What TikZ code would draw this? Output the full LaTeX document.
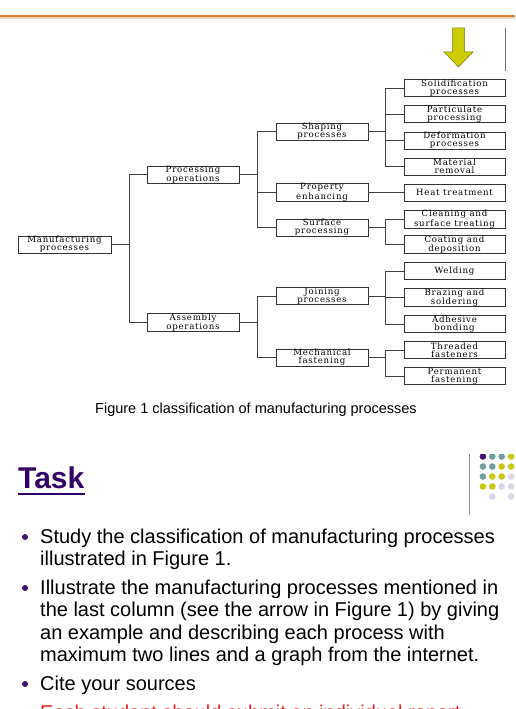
\documentclass[tikz,border=0pt]{standalone}
\usepackage{fontspec}
\setmainfont{Liberation Sans}
\newfontfamily\boxfont[LetterSpace=9]{DejaVu Serif}
\usetikzlibrary{calc}

\begin{document}
\begin{tikzpicture}[x=1pt,y=-1pt,
  box/.style={draw=black!80,line width=0.6pt,fill=white,minimum height=17pt,
    inner sep=0pt,align=center,font=\boxfont\fontsize{8.6}{8}\selectfont},
  midbox/.style={box,minimum width=92pt},
  leafbox/.style={box,minimum width=101pt},
  link/.style={draw=black!75,line width=0.6pt},
  bullettext/.style={anchor=base west,inner sep=0pt,font=\fontsize{20}{24}\selectfont}]

\definecolor{slideorange}{RGB}{214,128,58}
\definecolor{arrowyellow}{RGB}{204,204,0}
\definecolor{arrowedge}{RGB}{120,120,20}
\definecolor{taskpurple}{RGB}{51,0,102}
\definecolor{dotpurple}{RGB}{64,16,112}
\definecolor{dotteal}{RGB}{110,160,160}
\definecolor{dotyellow}{RGB}{200,200,20}
\definecolor{dotlilac}{RGB}{216,216,235}
\definecolor{warnred}{RGB}{230,30,30}

\useasboundingbox (0,0) rectangle (515,709);

% slide decoration
\draw [slideorange!35,line width=1.5pt] (0,18) -- (515,18);
\draw [slideorange,line width=2pt] (0,16) -- (515,16);
\draw [black!55,line width=0.8pt] (505,28) -- (505,71);
\draw [arrowedge,fill=arrowyellow,line width=0.5pt]
  (452.5,28) -- (464.5,28) -- (464.5,52) -- (473,52) -- (458.5,67)
  -- (444,52) -- (452.5,52) -- cycle;

% classification tree
\node [box,minimum width=93pt] (manuf) at (64.5,244.5) {Manufacturing\\processes};

\node [midbox] (procop) at (193,174.5) {Processing\\operations};
\node [midbox] (asmop) at (193,322.5) {Assembly\\operations};

\node [midbox] (shaping) at (322,131.5) {Shaping\\processes};
\node [midbox] (property) at (322,192.5) {Property\\enhancing};
\node [midbox] (surface) at (322,227.5) {Surface\\processing};
\node [midbox] (joining) at (322,296) {Joining\\processes};
\node [midbox] (mechfast) at (322,357.5) {Mechanical\\fastening};

\node [leafbox] (solid) at (454.5,88) {Solidification\\processes};
\node [leafbox] (partic) at (454.5,114) {Particulate\\processing};
\node [leafbox] (deform) at (454.5,140.5) {Deformation\\processes};
\node [leafbox] (material) at (454.5,166.5) {Material\\removal};
\node [leafbox] (heat) at (454.5,192.5) {Heat treatment};
\node [leafbox] (cleaning) at (454.5,219) {Cleaning and\\surface treating};
\node [leafbox] (coating) at (454.5,244.5) {Coating and\\deposition};
\node [leafbox] (welding) at (454.5,271) {Welding};
\node [leafbox] (brazing) at (454.5,297.5) {Brazing and\\soldering};
\node [leafbox] (adhesive) at (454.5,324) {Adhesive\\bonding};
\node [leafbox] (threaded) at (454.5,350) {Threaded\\fasteners};
\node [leafbox] (permanent) at (454.5,376) {Permanent\\fastening};

\draw [link] (manuf.east) -- ++(18,0) |- (procop.west);
\draw [link] (manuf.east) -- ++(18,0) |- (asmop.west);

\draw [link] (procop.east) -- ++(18,0) |- (shaping.west);
\draw [link] (procop.east) -- ++(18,0) |- (property.west);
\draw [link] (procop.east) -- ++(18,0) |- (surface.west);
\draw [link] (asmop.east) -- ++(18,0) |- (joining.west);
\draw [link] (asmop.east) -- ++(18,0) |- (mechfast.west);

\draw [link] (shaping.east) -- ++(17,0) |- (solid.west);
\draw [link] (shaping.east) -- ++(17,0) |- (partic.west);
\draw [link] (shaping.east) -- ++(17,0) |- (deform.west);
\draw [link] (shaping.east) -- ++(17,0) |- (material.west);
\draw [link] (property.east) -- (heat.west);
\draw [link] (surface.east) -- ++(17,0) |- (cleaning.west);
\draw [link] (surface.east) -- ++(17,0) |- (coating.west);
\draw [link] (joining.east) -- ++(17,0) |- (welding.west);
\draw [link] (joining.east) -- ++(17,0) |- (brazing.west);
\draw [link] (joining.east) -- ++(17,0) |- (adhesive.west);
\draw [link] (mechfast.east) -- ++(17,0) |- (threaded.west);
\draw [link] (mechfast.east) -- ++(17,0) |- (permanent.west);

\node [anchor=base,inner sep=0pt,font=\fontsize{14.5}{17}\selectfont] (caption) at (256,413)
  {Figure 1 classification of manufacturing processes};

% task block
\node [anchor=base west,inner sep=0pt,text=taskpurple,font=\bfseries\fontsize{30}{36}\selectfont]
  (task) at (18,488) {Task};
\draw [taskpurple,line width=2.5pt] ($(task.base west)+(0,6)$) -- ($(task.base east)+(0,6)$);

\draw [black!45,line width=1pt] (469,454) -- (469,515);
\begin{scope}
  \clip (472,454) rectangle (515,520);
  \foreach \col/\row/\c in {1/1/dotpurple,2/1/dotteal,3/1/dotteal,4/1/dotyellow,
      1/2/dotteal,2/2/dotteal,3/2/dotyellow,4/2/dotyellow,
      1/3/dotteal,2/3/dotyellow,3/3/dotyellow,4/3/dotlilac,
      1/4/dotyellow,2/4/dotyellow,3/4/dotlilac,4/4/dotlilac,
      2/5/dotlilac,4/5/dotlilac}
    \fill [\c] ({473.5+9.4*\col},{446.5+10*\row}) circle [radius=3.3pt];
\end{scope}

\node [bullettext] (study) at (40,543) {Study the classification of manufacturing processes};
\node [bullettext] (studyb) at (40,565.5) {illustrated in Figure 1.};
\node [bullettext] (illus) at (40,594) {Illustrate the manufacturing processes mentioned in};
\node [bullettext] (illusb) at (40,616.5) {the last column (see the arrow in Figure 1) by giving};
\node [bullettext] (illusc) at (40,639) {an example and describing each process with};
\node [bullettext] (illusd) at (40,661.5) {maximum two lines and a graph from the internet.};
\node [bullettext] (cite) at (40,690) {Cite your sources};
\node [bullettext,text=warnred] (note) at (40,719) {Each student should submit an individual report};

\fill [dotpurple] ($(study.base west)+(-15,-6)$) circle [radius=3pt];
\fill [dotpurple] ($(illus.base west)+(-15,-6)$) circle [radius=3pt];
\fill [dotpurple] ($(cite.base west)+(-15,-6)$) circle [radius=3pt];

\end{tikzpicture}
\end{document}
